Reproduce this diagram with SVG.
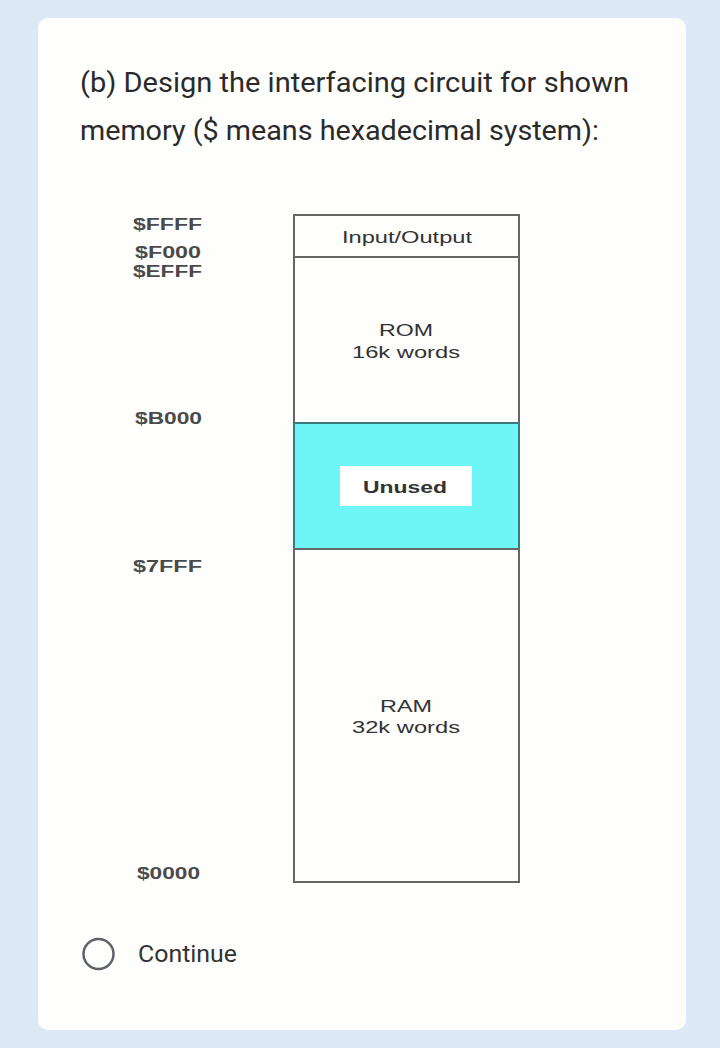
<svg xmlns="http://www.w3.org/2000/svg" width="720" height="1048" viewBox="0 0 720 1048">
<style>
.addr{font-family:"Liberation Sans",Arial,sans-serif;font-size:16px;font-weight:bold;fill:#4a4a4a}
.lbl{font-family:"Liberation Sans",Arial,sans-serif;font-size:17px;fill:#333}
.title{font-family:Roboto,"Noto Sans",sans-serif;font-size:28px;fill:#2a2a2a}
.box{fill:none;stroke:#666;stroke-width:2}
</style>
<rect x="0" y="0" width="720" height="1048" fill="#dde9f7"/>
<rect x="38" y="18" width="648" height="1012" rx="10" fill="#fefefd"/>
<text class="title" x="80" y="92" textLength="549" lengthAdjust="spacingAndGlyphs">(b) Design the interfacing circuit for shown</text>
<text class="title" x="80" y="140" textLength="519" lengthAdjust="spacingAndGlyphs">memory ($ means hexadecimal system):</text>
<g id="addresses">
<text class="addr" x="133" y="230" textLength="69" lengthAdjust="spacingAndGlyphs">$FFFF</text>
<text class="addr" x="135" y="258" textLength="66" lengthAdjust="spacingAndGlyphs">$F000</text>
<text class="addr" x="133" y="277" textLength="69" lengthAdjust="spacingAndGlyphs">$EFFF</text>
<text class="addr" x="135" y="424" textLength="67" lengthAdjust="spacingAndGlyphs">$B000</text>
<text class="addr" x="133" y="572" textLength="69" lengthAdjust="spacingAndGlyphs">$7FFF</text>
<text class="addr" x="137" y="879" textLength="63" lengthAdjust="spacingAndGlyphs">$0000</text>
</g>
<g id="io">
<rect class="box" x="294" y="215" width="225" height="42"/>
<text class="lbl" x="342" y="243" textLength="130" lengthAdjust="spacingAndGlyphs">Input/Output</text>
</g>
<g id="rom">
<rect class="box" x="294" y="257" width="225" height="166"/>
<text class="lbl" x="379" y="336" textLength="54" lengthAdjust="spacingAndGlyphs">ROM</text>
<text class="lbl" x="352" y="358" textLength="108" lengthAdjust="spacingAndGlyphs">16k words</text>
</g>
<g id="unused">
<rect x="294" y="423" width="225" height="126" fill="#6ef5f5" stroke="#3a7a7a" stroke-width="2"/>
<rect x="340" y="466" width="132" height="40" fill="#ffffff"/>
<text class="lbl" x="363" y="493" textLength="84" lengthAdjust="spacingAndGlyphs" font-weight="bold" fill="#444">Unused</text>
</g>
<g id="ram">
<rect class="box" x="294" y="549" width="225" height="333"/>
<text class="lbl" x="380" y="712" textLength="52" lengthAdjust="spacingAndGlyphs">RAM</text>
<text class="lbl" x="352" y="733" textLength="108" lengthAdjust="spacingAndGlyphs">32k words</text>
</g>
<g id="continue">
<circle cx="98.5" cy="954" r="15" fill="none" stroke="#5f6368" stroke-width="2.5"/>
<text x="138" y="962" font-family="Roboto,'Noto Sans',sans-serif" font-size="23" fill="#333" textLength="99" lengthAdjust="spacingAndGlyphs">Continue</text>
</g>
<g id="connectors"></g>
</svg>
